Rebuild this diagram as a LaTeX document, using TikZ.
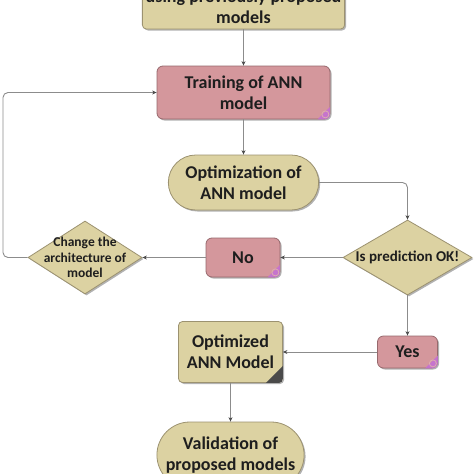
\documentclass[tikz,border=0pt]{standalone}
\usepackage{fontspec}
\setmainfont{Carlito}
\usetikzlibrary{shapes.geometric,shapes.misc,shadows,arrows.meta}
\definecolor{tanfill}{HTML}{DCD2A2}
\definecolor{tanline}{HTML}{9C9270}
\definecolor{pinkfill}{HTML}{D4979C}
\definecolor{pinkline}{HTML}{97696D}
\definecolor{linkcol}{HTML}{8C8C8C}
\definecolor{txt}{HTML}{1E1E1E}
\definecolor{markcol}{HTML}{C46FD6}
\definecolor{darkmark}{HTML}{4A4A4A}
\tikzset{
  base/.style={font=\fontsize{18}{21}\selectfont\bfseries, text=txt, align=center, line width=0.8pt,
    drop shadow={shadow xshift=1.5pt, shadow yshift=-1.5pt, opacity=0.3, fill=black}},
  tanbox/.style={base, rectangle, rounded corners=4pt, fill=tanfill, draw=tanline},
  pinkbox/.style={base, rectangle, rounded corners=6pt, fill=pinkfill, draw=pinkline},
  stadium/.style={base, rounded rectangle, fill=tanfill, draw=tanline},
  decision/.style={base, diamond, fill=tanfill, draw=tanline, inner sep=0pt},
  dtext/.style={text=txt, align=center, font=\bfseries},
  link/.style={draw=linkcol, line width=0.9pt, -{Stealth[length=4.5pt,width=4pt,color=darkmark,fill=darkmark]}},
}
\newcommand\pinkmark[1]{%
  \begin{scope}
    \clip[rounded corners=6pt] (#1.south west) rectangle (#1.north east);
    \fill[markcol, opacity=0.85] ([shift={(-13,0)}]#1.south east) -- ([shift={(0,-13)}]#1.south east) -- (#1.south east) -- cycle;
    \draw[pinkfill!80!white, line width=0.8pt] ([shift={(-5,-5)}]#1.south east) circle (3.5pt);
  \end{scope}}
\newcommand\darkcorner[1]{%
  \begin{scope}
    \clip[rounded corners=4pt] (#1.south west) rectangle (#1.north east);
    \fill[darkmark] ([shift={(-17,0)}]#1.south east) -- ([shift={(0,-17)}]#1.south east) -- (#1.south east) -- cycle;
  \end{scope}}
\begin{document}
\begin{tikzpicture}[x=1pt,y=-1pt]
\useasboundingbox (0,0) rectangle (474,474);
\clip (0,0) rectangle (474,474);
\fill[white] (0,0) rectangle (474,474);

\node[tanbox, minimum width=173pt, minimum height=44pt] (prev) at (243.5,7) {using previously proposed\\models};
\node[pinkbox, minimum width=173pt, minimum height=53pt] (train) at (243.5,92.5) {Training of ANN\\model};
\node[stadium, minimum width=157pt, minimum height=55pt] (optim) at (243.5,182.5) {Optimization of\\ANN model};
\node[decision, minimum width=129pt, minimum height=75pt] (pred) at (407.5,257.5) {};
\node[dtext, font=\fontsize{15}{17}\selectfont\bfseries] (predt) at (pred.center) {Is prediction OK!};
\node[pinkbox, minimum width=74pt, minimum height=39pt] (no) at (243,257.5) {No};
\node[decision, minimum width=114pt, minimum height=73pt] (change) at (85,257.5) {};
\node[dtext, font=\fontsize{13.5}{15.5}\selectfont\bfseries] (changet) at (change.center) {Change the\\architecture of\\model};
\node[pinkbox, minimum width=60pt, minimum height=32pt] (yes) at (407.5,352) {Yes};
\node[tanbox, minimum width=104pt, minimum height=61pt] (optm) at (230.5,352) {Optimized\\ANN Model};
\node[stadium, minimum width=145pt, minimum height=66pt] (valid) at (230.5,455) {Validation of\\proposed models};

\pinkmark{train}
\pinkmark{no}
\pinkmark{yes}
\darkcorner{optm}

\coordinate (loop) at (3,92.5);
\draw[link] (prev.south) -- (train.north);
\draw[link] (train.south) -- (optim.north);
\draw[link, rounded corners=5pt] (optim.east) -| (pred.north);
\draw[link] (pred.west) -- (no.east);
\draw[link] (no.west) -- (change.east);
\draw[link, rounded corners=5pt] (change.west) -| (loop) -- (train.west);
\draw[link] (pred.south) -- (yes.north);
\draw[link] (yes.west) -- (optm.east);
\draw[link] (optm.south) -- (valid.north);
\end{tikzpicture}
\end{document}
